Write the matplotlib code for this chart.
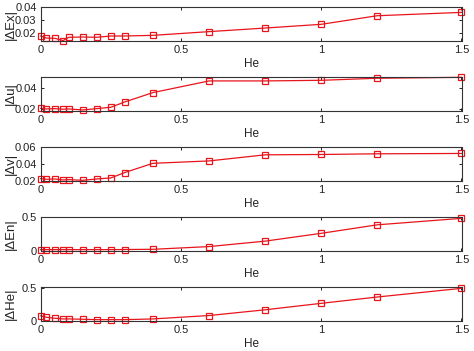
import numpy as np
import matplotlib
matplotlib.use("Agg")
import matplotlib.pyplot as plt

plt.rcParams['font.family'] = ['Liberation Sans', 'DejaVu Sans']

# valores de He (eixo x comum)
he = [0, 0.02, 0.05, 0.08, 0.1, 0.15, 0.2, 0.25, 0.3, 0.4, 0.6, 0.8, 1.0, 1.2, 1.5]

# erros absolutos
d_ex = [0.0174, 0.0158, 0.0156, 0.0138, 0.0164, 0.0166, 0.0164, 0.0174, 0.0174,
        0.0179, 0.0208, 0.0236, 0.0265, 0.0332, 0.0358]
d_u = [0.0203, 0.0197, 0.0200, 0.0194, 0.0197, 0.0187, 0.0200, 0.0213, 0.0265,
       0.0355, 0.0468, 0.0468, 0.0474, 0.0494, 0.0503]
d_v = [0.0228, 0.0220, 0.0224, 0.0212, 0.0216, 0.0208, 0.0224, 0.0236, 0.0300,
       0.0408, 0.0436, 0.0508, 0.0512, 0.0520, 0.0524]
d_en = [0.020, 0.020, 0.020, 0.020, 0.020, 0.020, 0.020, 0.020, 0.022,
        0.025, 0.065, 0.145, 0.260, 0.385, 0.480]
d_he = [0.077, 0.056, 0.041, 0.031, 0.031, 0.026, 0.020, 0.020, 0.020,
        0.031, 0.082, 0.168, 0.265, 0.360, 0.490]

series = [d_ex, d_u, d_v, d_en, d_he]
ylabels = ['|ΔEx|', '|Δu|', '|Δv|', '|ΔEn|', '|ΔHe|']
ylims = [(0.0135, 0.04), (0.0177, 0.0506), (0.02, 0.06), (0, 0.5), (0, 0.51)]
yticks = [[0.02, 0.03, 0.04], [0.02, 0.04], [0.02, 0.04, 0.06], [0, 0.5], [0, 0.5]]
yticklabels = [['0.02', '0.03', '0.04'], ['0.02', '0.04'], ['0.02', '0.04', '0.06'],
               ['0', '0.5'], ['0', '0.5']]

W, H = 474, 351
fig = plt.figure(figsize=(W / 100, H / 100), dpi=100)

tops = [7, 77, 147, 217, 287]   # topo de cada painel (px)
alt = 34                         # altura do painel (px)
esq, dir_ = 40.7, 461.5

for k in range(5):
    ax = fig.add_axes([esq / W, 1 - (tops[k] + alt) / H, (dir_ - esq) / W, alt / H])
    ax.plot(he, series[k], color='#e8141c', lw=0.9, marker='s', markersize=5,
            markerfacecolor='none', markeredgecolor='#e8141c', markeredgewidth=0.9,
            clip_on=False)
    ax.set_xlim(0, 1.5)
    ax.set_ylim(*ylims[k])
    ax.set_xticks([0, 0.5, 1, 1.5])
    ax.set_xticklabels(['0', '0.5', '1', '1.5'])
    ax.set_yticks(yticks[k])
    ax.set_yticklabels(yticklabels[k])
    ax.tick_params(direction='in', top=True, right=True, length=2.5, width=0.7,
                   labelsize=8, pad=3, colors='#222222')
    for s in ax.spines.values():
        s.set_linewidth(0.8)
        s.set_color('#333333')
    ax.set_xlabel('He', fontsize=8.5, labelpad=2, color='#222222')
    ax.set_ylabel(ylabels[k], fontsize=9.5, color='#222222')
    ax.yaxis.set_label_coords(-0.056, 0.5)

plt.savefig('out.png', dpi=100)
